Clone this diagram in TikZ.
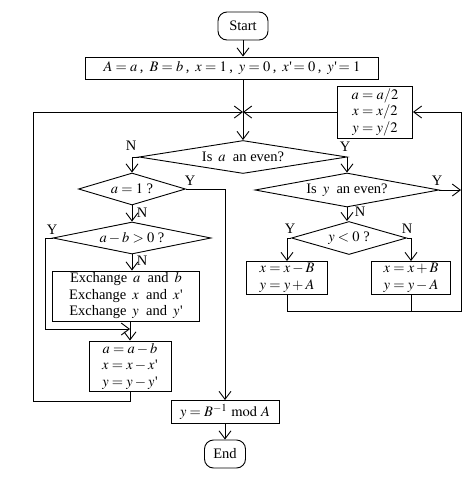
\documentclass[tikz,border=0pt]{standalone}
\usepackage{mathptmx}
\usepackage{fontspec}
\setmainfont{Liberation Serif}
\usetikzlibrary{shapes.geometric,arrows.meta}
\begin{document}
\begin{tikzpicture}[x=1pt,y=-1pt,line width=0.9pt,
  font=\fontsize{14.5}{16.5}\selectfont,
  >={Straight Barb[length=8pt,width=12pt]},
  box/.style={draw,rectangle,inner sep=0pt,align=center},
  term/.style={draw,rounded corners=9pt,inner sep=0pt},
  dia/.style={draw,diamond,inner sep=0pt},
  lbl/.style={inner sep=1pt}]
\useasboundingbox (0,0) rectangle (474,485);
\node[term,minimum width=50pt,minimum height=28pt] (start) at (243,26) {Start};
\node[box,minimum width=293pt,minimum height=22pt] (init) at (232,68) {$A=a$\,,\ \,$B=b$\,,\ \,$x=1$\,,\ \,$y=0$\,,\ \,$x$\kern.5pt\textquotesingle$\,=0$\,,\ \,$y$\kern.5pt\textquotesingle$\,=1$};
\node[box,minimum width=75pt,minimum height=52pt] (half) at (375,112) {$a=a/2$\\$x=x/2$\\$y=y/2$};
\node[dia,aspect=6.3,minimum width=208pt,minimum height=33pt] (isa) at (243,157) {Is\ \,$a$\ \ an even?};
\node[dia,aspect=3.3,minimum width=107pt,minimum height=32pt] (aone) at (132,189) {$a=1$ ?};
\node[dia,aspect=4.9,minimum width=158pt,minimum height=32pt] (adiff) at (132,238) {$a-b>0$ ?};
\node[box,minimum width=147pt,minimum height=50pt] (swap) at (126,296) {Exchange\ \,$a$\ \ and\ \,$b$\\Exchange\ \,$x$\ \ and\ \,$x$\kern.5pt\textquotesingle\\Exchange\ \,$y$\ \ and\ \,$y$\kern.5pt\textquotesingle};
\node[box,minimum width=82pt,minimum height=50pt] (sub) at (130,366) {$a=a-b$\\$x=x-x$\kern.5pt\textquotesingle\\$y=y-y$\kern.5pt\textquotesingle};
\node[dia,aspect=5.4,minimum width=184pt,minimum height=34pt] (isy) at (347,190) {Is\ \,$y$\ \ an even?};
\node[dia,aspect=3.5,minimum width=115pt,minimum height=33pt] (yneg) at (349,238) {$y<0$ ?};
\node[box,minimum width=81pt,minimum height=33pt] (minus) at (287,278) {$x=x-B$\\$y=y+A$};
\node[box,minimum width=79pt,minimum height=33pt] (plus) at (411,278) {$x=x+B$\\$y=y-A$};
\node[box,minimum width=108pt,minimum height=23pt] (inv) at (225,412) {$y=B^{-1}\bmod A$};
\node[term,minimum width=41pt,minimum height=28pt] (end) at (225,454) {End};
\coordinate (merge) at (243,112);
\coordinate (loopl) at (33,401);
\coordinate (loopr) at (461,311);
\coordinate (loopy) at (45,329);
\coordinate (join) at (130,329);
\node[lbl] (na) at (131,146) {N};
\node[lbl] (ya) at (345,147) {Y};
\node[lbl] (yone) at (190,181) {Y};
\node[lbl] (none) at (142,213) {N};
\node[lbl] (ydiff) at (52,230) {Y};
\node[lbl] (ndiff) at (142,261) {N};
\node[lbl] (yy) at (437,181) {Y};
\node[lbl] (ny) at (360,212) {N};
\node[lbl] (yneg1) at (290,229) {Y};
\node[lbl] (nneg) at (407,229) {N};
\draw[->] (start) -- (start |- init.north);
\draw[->] (init.south -| merge) -- (isa.north);
\draw[->] (sub.south) |- (loopl) |- (merge);
\draw[->] (half) -- (merge);
\draw[->] (minus.south) |- (loopr) |- (half.east);
\draw (plus.south) -- (plus.south |- loopr);
\draw[->] (isy.east) -- (isy.east -| loopr);
\draw[->] (isa.west) -| (aone.north);
\draw[->] (isa.east) -| (isy.north);
\draw[->] (aone.south) -- (adiff.north);
\draw[->] (aone.east) -| (inv.north);
\draw[->] (adiff.south) -- (adiff.south |- swap.north);
\draw[->] (swap.south -| sub.north) -- (sub.north);
\draw[->] (adiff.west) -| (loopy) -- (join);
\draw[->] (isy.south) -- (isy.south |- yneg.north);
\draw[->] (yneg.west) -| (minus.north);
\draw[->] (yneg.east) -| (plus.north);
\draw[->] (inv) -- (end);
\end{tikzpicture}
\end{document}
